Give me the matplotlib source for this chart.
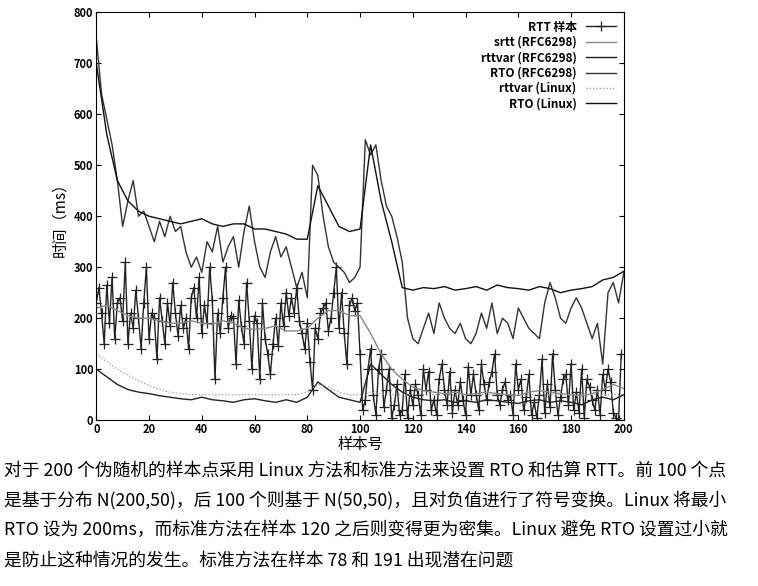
import numpy as np
import matplotlib
matplotlib.use("Agg")
import matplotlib.pyplot as plt

plt.rcParams['font.family'] = ['Noto Sans CJK SC', 'DejaVu Sans']

rtt = [230,260,210,150,265,190,280,160,230,240,195,310,150,210,180,255,200,140,230,300,
       160,210,200,120,240,195,150,230,185,270,210,165,225,180,200,140,240,260,200,280,
       170,225,190,300,235,80,210,170,240,300,180,205,200,110,235,185,150,270,195,100,
       205,190,80,230,160,130,90,150,200,145,230,185,250,205,240,210,260,195,170,140,
       190,115,60,180,160,210,220,230,175,200,250,300,180,250,170,110,225,240,215,230,
       130,20,40,100,140,50,10,100,130,25,60,100,5,30,70,10,20,90,5,60,
       30,70,50,10,100,60,95,20,40,10,80,110,60,30,95,15,60,30,75,40,
       10,105,50,90,50,20,110,70,40,75,95,130,50,30,60,75,40,50,10,110,
       60,80,20,45,90,10,35,5,50,120,15,70,25,130,60,10,45,80,90,30,
       110,20,55,15,100,5,80,65,40,20,60,10,90,60,100,75,15,5,0,130]
x4 = list(range(0, 201, 4))
srtt_rfc = [220,225,215,205,200,200,195,190,190,195,190,188,195,190,180,178,180,185,175,175,
            180,200,215,215,205,205,170,130,100,80,65,58,55,52,55,50,52,55,52,50,
            48,55,58,55,52,50,48,52,60,70,62]
rttvar_rfc = [100,85,70,60,55,52,48,45,42,40,45,40,38,35,40,42,38,35,40,35,
              45,75,60,45,40,35,110,90,70,55,45,40,38,40,35,38,35,40,38,35,
              33,38,40,35,38,35,30,40,45,40,50]
rttvar_linux = [130,115,100,88,78,68,60,55,52,50,50,50,50,50,50,50,50,50,50,50,
                55,70,65,55,50,50,55,52,50,50,50,50,50,50,50,50,50,50,50,50,
                50,50,50,50,50,50,50,50,50,50,50]
rto_linux = [700,560,470,430,410,400,395,390,385,390,395,385,380,385,385,375,375,370,365,355,
             355,460,420,380,370,375,540,430,350,260,255,260,258,262,255,258,262,255,265,260,
             258,255,262,258,250,255,258,262,275,280,292]
x2 = list(range(0, 201, 2))
rto_rfc = [750,640,590,540,470,380,430,470,400,410,380,350,390,360,400,370,380,330,300,320,290,
           350,330,380,310,340,360,300,370,420,350,300,280,330,360,320,340,300,260,290,240,
           500,480,400,340,310,300,290,270,280,300,
           550,520,540,470,420,400,360,310,200,160,
           150,180,210,170,230,200,180,170,190,160,150,170,210,180,230,170,200,190,160,220,
           200,180,170,160,230,270,240,200,190,220,240,220,190,160,190,110,250,270,230,290]

fig = plt.figure(figsize=(7.58, 5.86), dpi=100)
ax = fig.add_axes([0.127, 0.283, 0.696, 0.696])
ax.plot(range(len(rtt)), rtt, color='#222', lw=1.0, marker='+', ms=7, mew=0.9, label='RTT 样本')
ax.plot(x4, srtt_rfc, color='#888', lw=1.0, label='srtt (RFC6298)')
ax.plot(x4, rttvar_rfc, color='#222', lw=1.0, label='rttvar (RFC6298)')
ax.plot(x2, rto_rfc, color='#333', lw=1.0, label='RTO (RFC6298)')
ax.plot(x4, rttvar_linux, color='#999', lw=0.9, ls=':', label='rttvar (Linux)')
ax.plot(x4, rto_linux, color='#111', lw=1.0, label='RTO (Linux)')
ax.set_xlim(0, 200)
ax.set_ylim(0, 800)
ax.set_xticks(range(0, 201, 20))
ax.set_yticks(range(0, 801, 100))
ax.tick_params(direction='in', top=True, right=True, labelsize=8, pad=2)
for t in ax.get_xticklabels() + ax.get_yticklabels():
    t.set_fontweight('bold')
ax.set_xlabel('样本号', fontsize=11, labelpad=0)
ax.set_ylabel('时间（ms）', fontsize=11)
leg = ax.legend(loc='upper right', markerfirst=False, frameon=False, fontsize=8.5,
                handlelength=2.5, labelspacing=0.2, borderaxespad=0.3)
for t in leg.get_texts():
    t.set_fontweight('bold')

cap = ["对于 200 个伪随机的样本点采用 Linux 方法和标准方法来设置 RTO 和估算 RTT。前 100 个点",
       "是基于分布 N(200,50)，后 100 个则基于 N(50,50)，且对负值进行了符号变换。Linux 将最小",
       "RTO 设为 200ms，而标准方法在样本 120 之后则变得更为密集。Linux 避免 RTO 设置过小就",
       "是防止这种情况的发生。标准方法在样本 78 和 191 出现潜在问题"]
for i, line in enumerate(cap):
    fig.text(0.005, 1 - (470 + i * 30) / 586, line, fontsize=12.8, va='center', ha='left')

fig.savefig('out.png', dpi=100)
